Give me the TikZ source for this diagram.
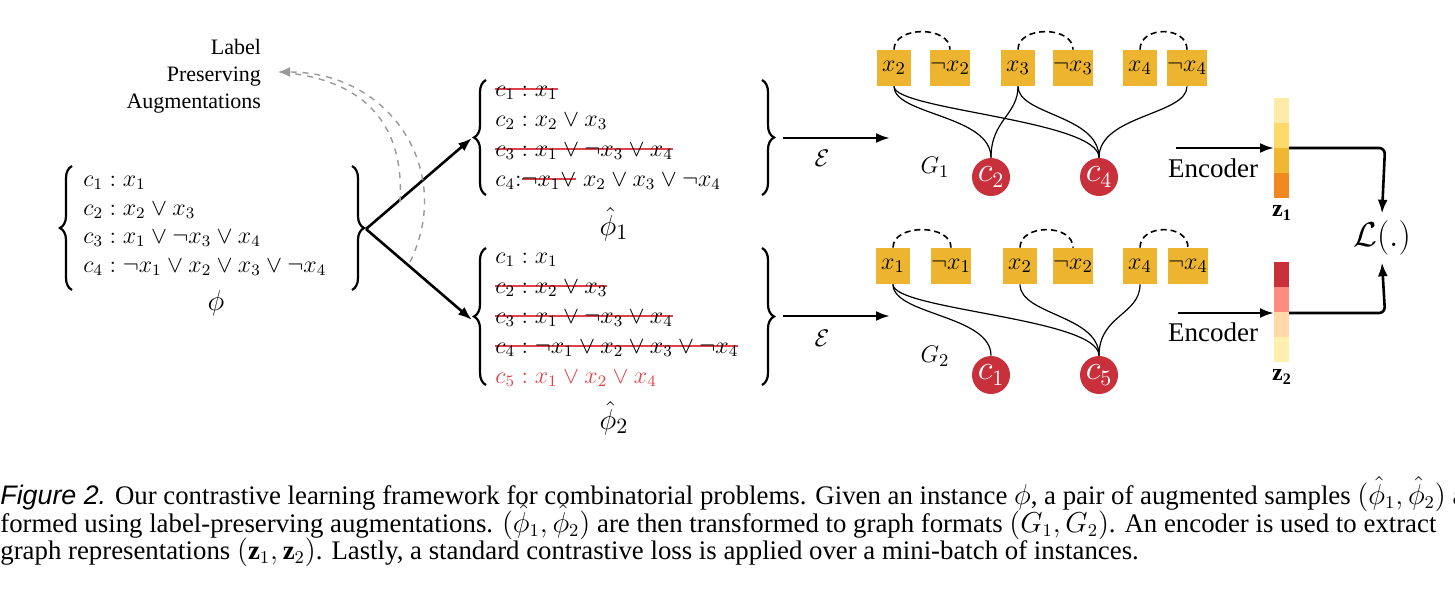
\documentclass[tikz,border=0pt]{standalone}
\usepackage{fontspec}
\setmainfont{Liberation Serif}
\newfontfamily\capsans{Liberation Sans}
\usetikzlibrary{decorations.pathreplacing,arrows.meta}
\definecolor{lit}{HTML}{EDB52F}
\definecolor{cls}{HTML}{C8303B}
\definecolor{strk}{HTML}{E0404A}
\newcommand\strk[1]{\setbox0\hbox{$#1$}\rlap{\color{strk}\rule[0.6ex]{\wd0}{0.6pt}}\box0}
\begin{document}
\begin{tikzpicture}[x=0.5pt,y=-0.5pt,
  cl/.style={anchor=base west,inner sep=0,font=\fontsize{11.5}{13}\selectfont},
  lit/.style={fill=lit,minimum width=17pt,minimum height=18pt,inner sep=0,font=\fontsize{12.5}{14}\selectfont},
  cnode/.style={circle,fill=cls,minimum size=19pt,inner sep=0,text=white,font=\fontsize{16}{16}\selectfont},
  br/.style={decorate,decoration={brace,amplitude=6pt},line width=1.1pt},
  arr/.style={line width=1.3pt,-{Latex[length=7pt,width=5pt]}},
  ed/.style={line width=0.6pt},
  da/.style={line width=0.8pt,dash pattern=on 3pt off 2pt},
  gd/.style={gray!80,dashed,line width=0.7pt},
  captxt/.style={anchor=base west,inner sep=0,font=\fontsize{13.4}{15}\selectfont}]
\useasboundingbox (0,0) rectangle (1455,595);
% phi
\node[cl] (p1) at (83,186) {$c_1:x_1$};
\node[cl] (p2) at (83,215) {$c_2:x_2\vee x_3$};
\node[cl] (p3) at (83,243) {$c_3:x_1\vee\neg x_3\vee x_4$};
\node[cl] (p4) at (83,272) {$c_4:\neg x_1\vee x_2\vee x_3\vee\neg x_4$};
\node[font=\fontsize{15}{16}\selectfont] (phi) at (216,303) {$\phi$};
\draw[br] (72,290) -- (72,166);
\draw[br] (352,166) -- (352,290);
% phi1
\node[cl] (a1) at (495,96) {\strk{c_1:x_1}};
\node[cl] (a2) at (495,126) {$c_2:x_2\vee x_3$};
\node[cl] (a3) at (495,156) {\strk{c_3:x_1\vee\neg x_3\vee x_4}};
\node[cl] (a4) at (495,186) {$c_4{:}$\strk{\neg x_1\vee}$\;x_2\vee x_3\vee\neg x_4$};
\node[font=\fontsize{15}{16}\selectfont] (phi1) at (614,224) {$\hat\phi_1$};
\draw[br] (486,195) -- (486,80);
\draw[br] (762,80) -- (762,195);
% phi2
\node[cl] (b1) at (495,263) {$c_1:x_1$};
\node[cl] (b2) at (495,293) {\strk{c_2:x_2\vee x_3}};
\node[cl] (b3) at (495,323) {\strk{c_3:x_1\vee\neg x_3\vee x_4}};
\node[cl] (b4) at (495,353) {\strk{c_4:\neg x_1\vee x_2\vee x_3\vee\neg x_4}};
\node[cl,text=strk] (b5) at (495,383) {$c_5:x_1\vee x_2\vee x_4$};
\node[font=\fontsize{15}{16}\selectfont] (phi2) at (614,418) {$\hat\phi_2$};
\draw[br] (486,385) -- (486,248);
\draw[br] (762,248) -- (762,385);
% split arrows
\coordinate (sp) at (366,229);
\coordinate (t1) at (472,138);
\coordinate (t2) at (472,320);
\draw[arr] (sp) -- (t1);
\draw[arr] (sp) -- (t2);
% label preserving
\node[align=right,anchor=north east,font=\fontsize{11}{13.5}\selectfont] (lp) at (268,32) {Label\\Preserving\\Augmentations};
\coordinate (g0) at (278,72);
\coordinate (g1) at (400,202);
\coordinate (g2) at (410,262);
\draw[gd] (g1) .. controls (405,120) and (360,78) .. (g0);
\draw[gd,-{Latex[length=6pt,width=5pt]}] (g2) .. controls (455,170) and (390,72) .. (g0);
% E arrows
\coordinate (e1s) at (783,138); \coordinate (e1e) at (890,138);
\coordinate (e2s) at (783,316); \coordinate (e2e) at (890,316);
\draw[arr] (e1s) -- (e1e);
\draw[arr] (e2s) -- (e2e);
\node[font=\fontsize{12}{14}\selectfont] (E1) at (822,158) {$\mathcal{E}$};
\node[font=\fontsize{12}{14}\selectfont] (E2) at (822,338) {$\mathcal{E}$};
% graph 1
\node[lit] (u1) at (894,68) {$x_2$};
\node[lit] (u2) at (950,68) {$\neg x_2$};
\node[lit] (u3) at (1018,68) {$x_3$};
\node[lit] (u4) at (1073,68) {$\neg x_3$};
\node[lit] (u5) at (1140,68) {$x_4$};
\node[lit] (u6) at (1187,68) {$\neg x_4$};
\node[cnode] (c2) at (991,177) {$c_2$};
\node[cnode] (c4) at (1099,177) {$c_4$};
\node[font=\fontsize{13}{15}\selectfont] (G1) at (935,167) {$G_1$};
\foreach \a/\b in {u1/u2,u3/u4,u5/u6}
  \draw[da] (\a.north) .. controls ([yshift=12pt]\a.north) and ([yshift=12pt]\b.north) .. (\b.north);
\draw[ed] (u1.south) .. controls (894,115) and (991,115) .. (c2.north);
\draw[ed] (u1.south) .. controls (894,110) and (1099,120) .. (c4.north);
\draw[ed] (u3.south) .. controls (1018,115) and (991,120) .. (c2.north);
\draw[ed] (u3.south) .. controls (1018,115) and (1099,115) .. (c4.north);
\draw[ed] (u6.south) .. controls (1187,115) and (1099,115) .. (c4.north);
% graph 2
\node[lit] (v1) at (893,266) {$x_1$};
\node[lit] (v2) at (951,266) {$\neg x_1$};
\node[lit] (v3) at (1020,266) {$x_2$};
\node[lit] (v4) at (1073,266) {$\neg x_2$};
\node[lit] (v5) at (1140,266) {$x_4$};
\node[lit] (v6) at (1188,266) {$\neg x_4$};
\node[cnode] (c1) at (991,375) {$c_1$};
\node[cnode] (c5) at (1099,375) {$c_5$};
\node[font=\fontsize{13}{15}\selectfont] (G2) at (935,356) {$G_2$};
\foreach \a/\b in {v1/v2,v3/v4,v5/v6}
  \draw[da] (\a.north) .. controls ([yshift=12pt]\a.north) and ([yshift=12pt]\b.north) .. (\b.north);
\draw[ed] (v1.south) .. controls (893,315) and (991,315) .. (c1.north);
\draw[ed] (v1.south) .. controls (893,310) and (1099,318) .. (c5.north);
\draw[ed] (v3.south) .. controls (1020,315) and (1099,315) .. (c5.north);
\draw[ed] (v5.south) .. controls (1140,315) and (1099,315) .. (c5.north);
% vectors
\foreach \i/\c in {0/FFEBA8,1/FFDA6A,2/F0B733,3/F0891F}
  {\definecolor{tmp}{HTML}{\c}\fill[tmp] (1274,98+25*\i) rectangle (1289,123+25*\i);}
\foreach \i/\c in {0/C9303A,1/FF8C80,2/FFD9A8,3/FFF0B0}
  {\definecolor{tmp}{HTML}{\c}\fill[tmp] (1274,262+25*\i) rectangle (1289,287+25*\i);}
\coordinate (z1in) at (1274,148); \coordinate (z1out) at (1289,148);
\coordinate (z2in) at (1274,313); \coordinate (z2out) at (1289,313);
\coordinate (enc1) at (1176,148); \coordinate (enc2) at (1178,313);
\node[font=\fontsize{12}{14}\selectfont] (zl1) at (1282,213) {$\mathbf{z_1}$};
\node[font=\fontsize{12}{14}\selectfont] (zl2) at (1282,377) {$\mathbf{z_2}$};
\node[font=\fontsize{13.5}{15}\selectfont] (en1) at (1213,168) {Encoder};
\node[font=\fontsize{13.5}{15}\selectfont] (en2) at (1213,332) {Encoder};
\node[font=\fontsize{19}{22}\selectfont] (L) at (1382,238) {$\mathcal{L}(.)$};
\draw[arr] (enc1) -- (z1in);
\draw[arr] (enc2) -- (z2in);
\draw[arr,rounded corners=3pt] (z1out) -- (1385,148) -- (L.north);
\draw[arr,rounded corners=3pt] (z2out) -- (1385,313) -- (L.south);
% caption
\node[captxt] (cap1) at (0,504) {{\capsans\itshape Figure 2.} Our contrastive learning framework for combinatorial problems. Given an instance $\phi$, a pair of augmented samples $(\hat\phi_1,\hat\phi_2)$ are};
\node[captxt] (cap2) at (0,532) {formed using label-preserving augmentations. $(\hat\phi_1,\hat\phi_2)$ are then transformed to graph formats $(G_1,G_2)$. An encoder is used to extract};
\node[captxt] (cap3) at (0,559) {graph representations $(\mathbf{z}_1,\mathbf{z}_2)$. Lastly, a standard contrastive loss is applied over a mini-batch of instances.};
\end{tikzpicture}
\end{document}
